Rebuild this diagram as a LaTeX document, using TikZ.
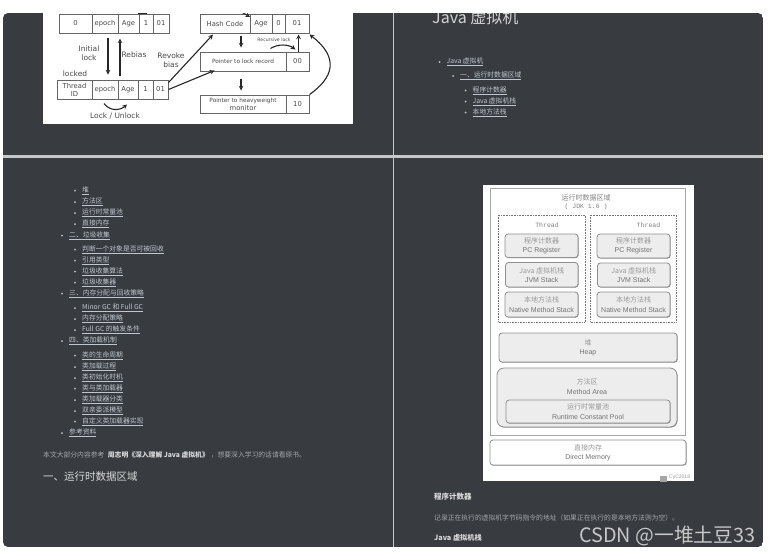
\documentclass[tikz,border=0pt]{standalone}
\usepackage{fontspec}
\setmainfont{Liberation Sans}
\newfontfamily\cjkfont{Noto Sans CJK SC}
\newfontfamily\verafont{DejaVu Sans}
\newfontfamily\codefont{Liberation Mono}
\usetikzlibrary{shadows}
\definecolor{PanelDark}{HTML}{383C40}
\definecolor{LinkGrey}{HTML}{BEC6D0}
\definecolor{BodyGrey}{HTML}{A4A8AC}
\definecolor{AreaGrey}{HTML}{EDEDED}
\definecolor{EdgeGrey}{HTML}{8E8E8E}
\definecolor{LineDark}{HTML}{4A4A4A}
\tikzset{
  memcell/.style={draw=LineDark!85, fill=white, line width=1pt, inner sep=0pt, align=center,
    text=LineDark, font=\verafont\fontsize{6.8}{8}\selectfont},
  memlabel/.style={inner sep=0pt, align=center, text=LineDark, font=\verafont\fontsize{7.5}{9.5}\selectfont},
  memarrow/.style={->, >=stealth, line width=1.1pt, draw=black!85},
  navtext/.style={inner sep=0pt, anchor=west, text=LinkGrey, font=\cjkfont\fontsize{6.8}{8}\selectfont},
  plaintext/.style={inner sep=0pt, anchor=west, text=BodyGrey, font=\cjkfont\fontsize{6.8}{8}\selectfont},
  areabox/.style={draw=EdgeGrey, fill=AreaGrey, rounded corners=3pt, line width=0.8pt, inner sep=0pt,
    align=center, text=black!55, font=\fontsize{7}{9.3}\selectfont,
    drop shadow={shadow xshift=0.6pt, shadow yshift=-0.6pt, fill=black!45, opacity=1}},
  threadbox/.style={draw=black!55, densely dotted, line width=0.6pt, fill=white},
  areatitle/.style={inner sep=0pt, align=center, text=black!50, font=\fontsize{7}{10}\selectfont}
}
% name, left, right, top, bottom, text
\newcommand{\MemCell}[6]{%
\node[memcell, minimum width={(#3-#2)*1pt}, minimum height={(#5-#4)*1pt}] (#1) at ({(#2+#3)/2},{(#4+#5)/2}) {#6};%
}
% same box for the memory areas, with an extra style
\newcommand{\AreaBox}[7][areabox]{%
\node[#1, minimum width={(#4-#3)*1pt}, minimum height={(#6-#5)*1pt}] (#2) at ({(#3+#4)/2},{(#5+#6)/2}) {#7};%
}
% name, x of text, y, text
\newcommand{\NavItem}[4]{%
\fill[color=LinkGrey] (#2-7,#3) circle (1pt);
\node[navtext] (#1) at (#2,#3) {\underline{#4}};%
}
\begin{document}
\begin{tikzpicture}[x=1pt,y=-1pt]
    \useasboundingbox (0,0) rectangle (771,555);
    \fill[color=white] (0,0) rectangle (771,555);
    \begin{scope}
    \path[clip,rounded corners=5pt] (3,13) rectangle (763,547);
    \fill[color=PanelDark] (3,13) rectangle (763,547);
    \fill[color=black!22] (3,155) rectangle (763,158);
    \fill[color=black!22] (392.5,13) rectangle (394,547);

    % top left slide
    \fill[color=white] (43,10) rectangle (353,124);
    \MemCell{biasZero}{59}{92}{14}{33}{0}
    \MemCell{biasEpoch}{92}{118}{14}{33}{epoch}
    \MemCell{biasAge}{118}{139}{14}{33}{Age}
    \MemCell{biasOne}{139}{153}{14}{33}{1}
    \MemCell{biasBits}{153}{169}{14}{33}{01}
    \MemCell{lockThread}{57}{92}{80}{99}{Thread\\ID}
    \MemCell{lockEpoch}{92}{118}{80}{99}{epoch}
    \MemCell{lockAge}{118}{138}{80}{99}{Age}
    \MemCell{lockOne}{138}{153}{80}{99}{1}
    \MemCell{lockBits}{153}{168}{80}{99}{01}
    \MemCell{hashCode}{200}{250}{14}{33}{Hash Code}
    \MemCell{hashAge}{250}{272}{14}{33}{Age}
    \MemCell{hashZero}{272}{285}{14}{33}{0}
    \MemCell{hashBits}{285}{309}{14}{33}{01}
    \MemCell{lightPtr}{200}{286}{52}{71}{\fontsize{5.8}{8}\selectfont Pointer to lock record}
    \MemCell{lightBits}{286}{309}{52}{71}{00}
    \MemCell{heavyPtr}{200}{286}{95}{113}{\fontsize{5.8}{7}\selectfont Pointer to heavyweight\\monitor}
    \MemCell{heavyBits}{286}{309}{95}{113}{10}
    \node[memlabel] (initialLock) at (89,53) {Initial\\lock};
    \node[memlabel] (rebias) at (134,55) {Rebias};
    \node[memlabel] (revokeBias) at (171,60) {Revoke\\bias};
    \node[memlabel] (lockedLabel) at (75,74) {locked};
    \node[memlabel] (lockUnlock) at (115,116) {Lock / Unlock};
    \node[memlabel,font=\verafont\fontsize{4.6}{6}\selectfont] (recursive) at (274,39.5) {Recursive lock};
    \draw[memarrow] ([xshift=3pt,yshift=-4pt]biasEpoch.south) -- ([xshift=3pt,yshift=5pt]lockEpoch.north);
    \draw[memarrow] ([xshift=-8pt,yshift=4pt]lockAge.north) -- ([xshift=-8.5pt,yshift=-5pt]biasAge.south);
    \draw[memarrow] (lockBits.east) ++(0pt,7pt) -- ([xshift=-12pt,yshift=-1pt]hashCode.south);
    \draw[memarrow] (lockBits.east) ++(0pt,0pt) -- ([xshift=-72pt,yshift=1pt]lightPtr.south east);
    \draw[memarrow] ([xshift=-1pt,yshift=-4pt]lockEpoch.south) .. controls ([xshift=5pt,yshift=-12pt]lockEpoch.south) and ([xshift=-8pt,yshift=-11pt]lockAge.south) .. ([xshift=-1pt,yshift=-5pt]lockAge.south);
    \draw[memarrow] ([xshift=16pt,yshift=-2pt]hashCode.south) -- ([xshift=16pt,yshift=4pt]hashCode.south |- lightPtr.north);
    \draw[memarrow] ([xshift=16pt,yshift=-7pt]hashCode.south |- lightPtr.south) -- ([xshift=16pt,yshift=4pt]hashCode.south |- heavyPtr.north);
    \draw[memarrow] ([xshift=-16pt,yshift=3pt]lightPtr.north east) .. controls ([xshift=-8pt,yshift=8pt]lightPtr.north east) and ([xshift=2pt,yshift=7pt]lightPtr.north east) .. ([xshift=9pt,yshift=2pt]lightPtr.north east);
    \draw[memarrow] ([xshift=1pt]lightBits.north) -- ([xshift=1pt,yshift=-1pt]lightBits.north |- hashBits.south);
    \draw[memarrow] (heavyBits.north east) .. controls (333,78) and (340,58) .. ([yshift=-1pt]hashBits.south east);
    \draw[line width=1pt, color=black!85] (138,13) -- (147,13);
    \draw[memarrow] (238,10) -- (250,17);

    % top right slide
    \node[inner sep=0pt,anchor=west,text=black!18,font=\cjkfont\fontsize{16}{18}\selectfont] (javaTitle) at (432,17) {Java 虚拟机};
    \NavItem{navJava}{446.5}{62}{Java 虚拟机}
    \NavItem{navRuntime}{460}{76}{一、运行时数据区域}
    \NavItem{navPc}{472.5}{90.5}{程序计数器}
    \NavItem{navVm}{472.5}{101.5}{Java 虚拟机栈}
    \NavItem{navNative}{472.5}{112.5}{本地方法栈}

    % bottom left slide
    \NavItem{navHeap}{82}{190.7}{堆}
    \NavItem{navMethod}{82}{202}{方法区}
    \NavItem{navPool}{82}{213}{运行时常量池}
    \NavItem{navDirect}{82}{224}{直接内存}
    \NavItem{navGc}{69}{235.5}{二、垃圾收集}
    \NavItem{navReach}{82}{249.5}{判断一个对象是否可被回收}
    \NavItem{navRef}{82}{260.5}{引用类型}
    \NavItem{navAlgo}{82}{271.5}{垃圾收集算法}
    \NavItem{navCollect}{82}{282.5}{垃圾收集器}
    \NavItem{navAlloc}{69}{293.5}{三、内存分配与回收策略}
    \NavItem{navMinor}{82}{308}{Minor GC 和 Full GC}
    \NavItem{navPolicy}{82}{319}{内存分配策略}
    \NavItem{navFull}{82}{330}{Full GC 的触发条件}
    \NavItem{navLoad}{69}{341}{四、类加载机制}
    \NavItem{navLife}{82}{355.5}{类的生命周期}
    \NavItem{navSteps}{82}{367}{类加载过程}
    \NavItem{navInit}{82}{378}{类初始化时机}
    \NavItem{navLoader}{82}{388.5}{类与类加载器}
    \NavItem{navKinds}{82}{400}{类加载器分类}
    \NavItem{navParent}{82}{411}{双亲委派模型}
    \NavItem{navCustom}{82}{421.5}{自定义类加载器实现}
    \NavItem{navRefs}{69}{433}{参考资料}
    \node[plaintext] (introText) at (43,455) {本文大部分内容参考 \hspace{2pt}{\bfseries\color{black!15}周志明《深入理解 Java 虚拟机》}\hspace{2pt}，想要深入学习的话请看原书。};
    \node[inner sep=0pt,anchor=west,text=black!15,font=\cjkfont\fontsize{10.5}{12}\selectfont] (runtimeHead) at (43,477) {一、运行时数据区域};

    % bottom right slide
    \fill[color=white] (483,185) rectangle (694,481);
    \draw[color=black!35,line width=0.6pt] (490.5,188) rectangle (685.5,435);
    \node[areatitle] (figTitle) at (586,198) {\cjkfont 运行时数据区域};
    \node[areatitle,font=\codefont\fontsize{6.5}{8}\selectfont] (figJdk) at (586,206.5) {( JDK 1.6 )};
    \draw[threadbox] (498.5,215) rectangle (585,322);
    \draw[threadbox] (590.5,215) rectangle (676,322);
    \node[areatitle,font=\codefont\fontsize{6.5}{8}\selectfont] (threadOne) at (547,225) {Thread};
    \node[areatitle,font=\codefont\fontsize{6.5}{8}\selectfont] (threadTwo) at (648.5,225) {Thread};
    \AreaBox{pcOne}{505}{578}{234}{257.5}{{\cjkfont\color{black!40}程序计数器}\\PC Register}
    \AreaBox{vmOne}{505.5}{578}{262.5}{287}{{\cjkfont\color{black!40}Java 虚拟机栈}\\JVM Stack}
    \AreaBox{nativeOne}{505}{578}{292}{317}{{\cjkfont\color{black!40}本地方法栈}\\Native Method Stack}
    \AreaBox{pcTwo}{597}{670}{234}{258}{{\cjkfont\color{black!40}程序计数器}\\PC Register}
    \AreaBox{vmTwo}{597.5}{670}{263}{287}{{\cjkfont\color{black!40}Java 虚拟机栈}\\JVM Stack}
    \AreaBox{nativeTwo}{597}{670}{292}{317}{{\cjkfont\color{black!40}本地方法栈}\\Native Method Stack}
    \AreaBox{heapArea}{499}{677}{333}{362}{{\cjkfont\color{black!40}堆}\\Heap}
    \AreaBox[areabox,rounded corners=7pt,text depth=22pt]{methodArea}{497}{677}{368}{427}{{\cjkfont\color{black!40}方法区}\\Method Area}
    \AreaBox{poolArea}{506}{670}{400}{423}{{\cjkfont\color{black!40}运行时常量池}\\Runtime Constant Pool}
    \AreaBox[areabox,fill=white,drop shadow={shadow xshift=0.3pt, shadow yshift=-0.3pt, fill=black!30, opacity=1}]{directArea}{490}{686}{440}{465}{{\cjkfont\color{black!40}直接内存}\\Direct Memory}
    \fill[color=black!35] (660,476) rectangle (667,482);
    \node[inner sep=0pt,anchor=west,text=black!40,font=\fontsize{5}{6}\selectfont] (cycMark) at (669,477) {CyC2018};
    \node[plaintext,text=black!15,font=\cjkfont\bfseries\fontsize{7.5}{8}\selectfont] (pcHead) at (434,497) {程序计数器};
    \node[plaintext] (pcBody) at (434,518) {记录正在执行的虚拟机字节码指令的地址（如果正在执行的是本地方法则为空）。};
    \node[plaintext,text=black!15,font=\cjkfont\bfseries\fontsize{7.2}{8}\selectfont] (vmHead) at (434,538) {Java 虚拟机栈};
    \end{scope}
    \node[inner sep=0pt,anchor=west,text=black!22,font=\cjkfont\fontsize{19.8}{22}\selectfont] (watermark) at (579,536) {CSDN @一堆土豆33};
  \end{tikzpicture}
\end{document}
